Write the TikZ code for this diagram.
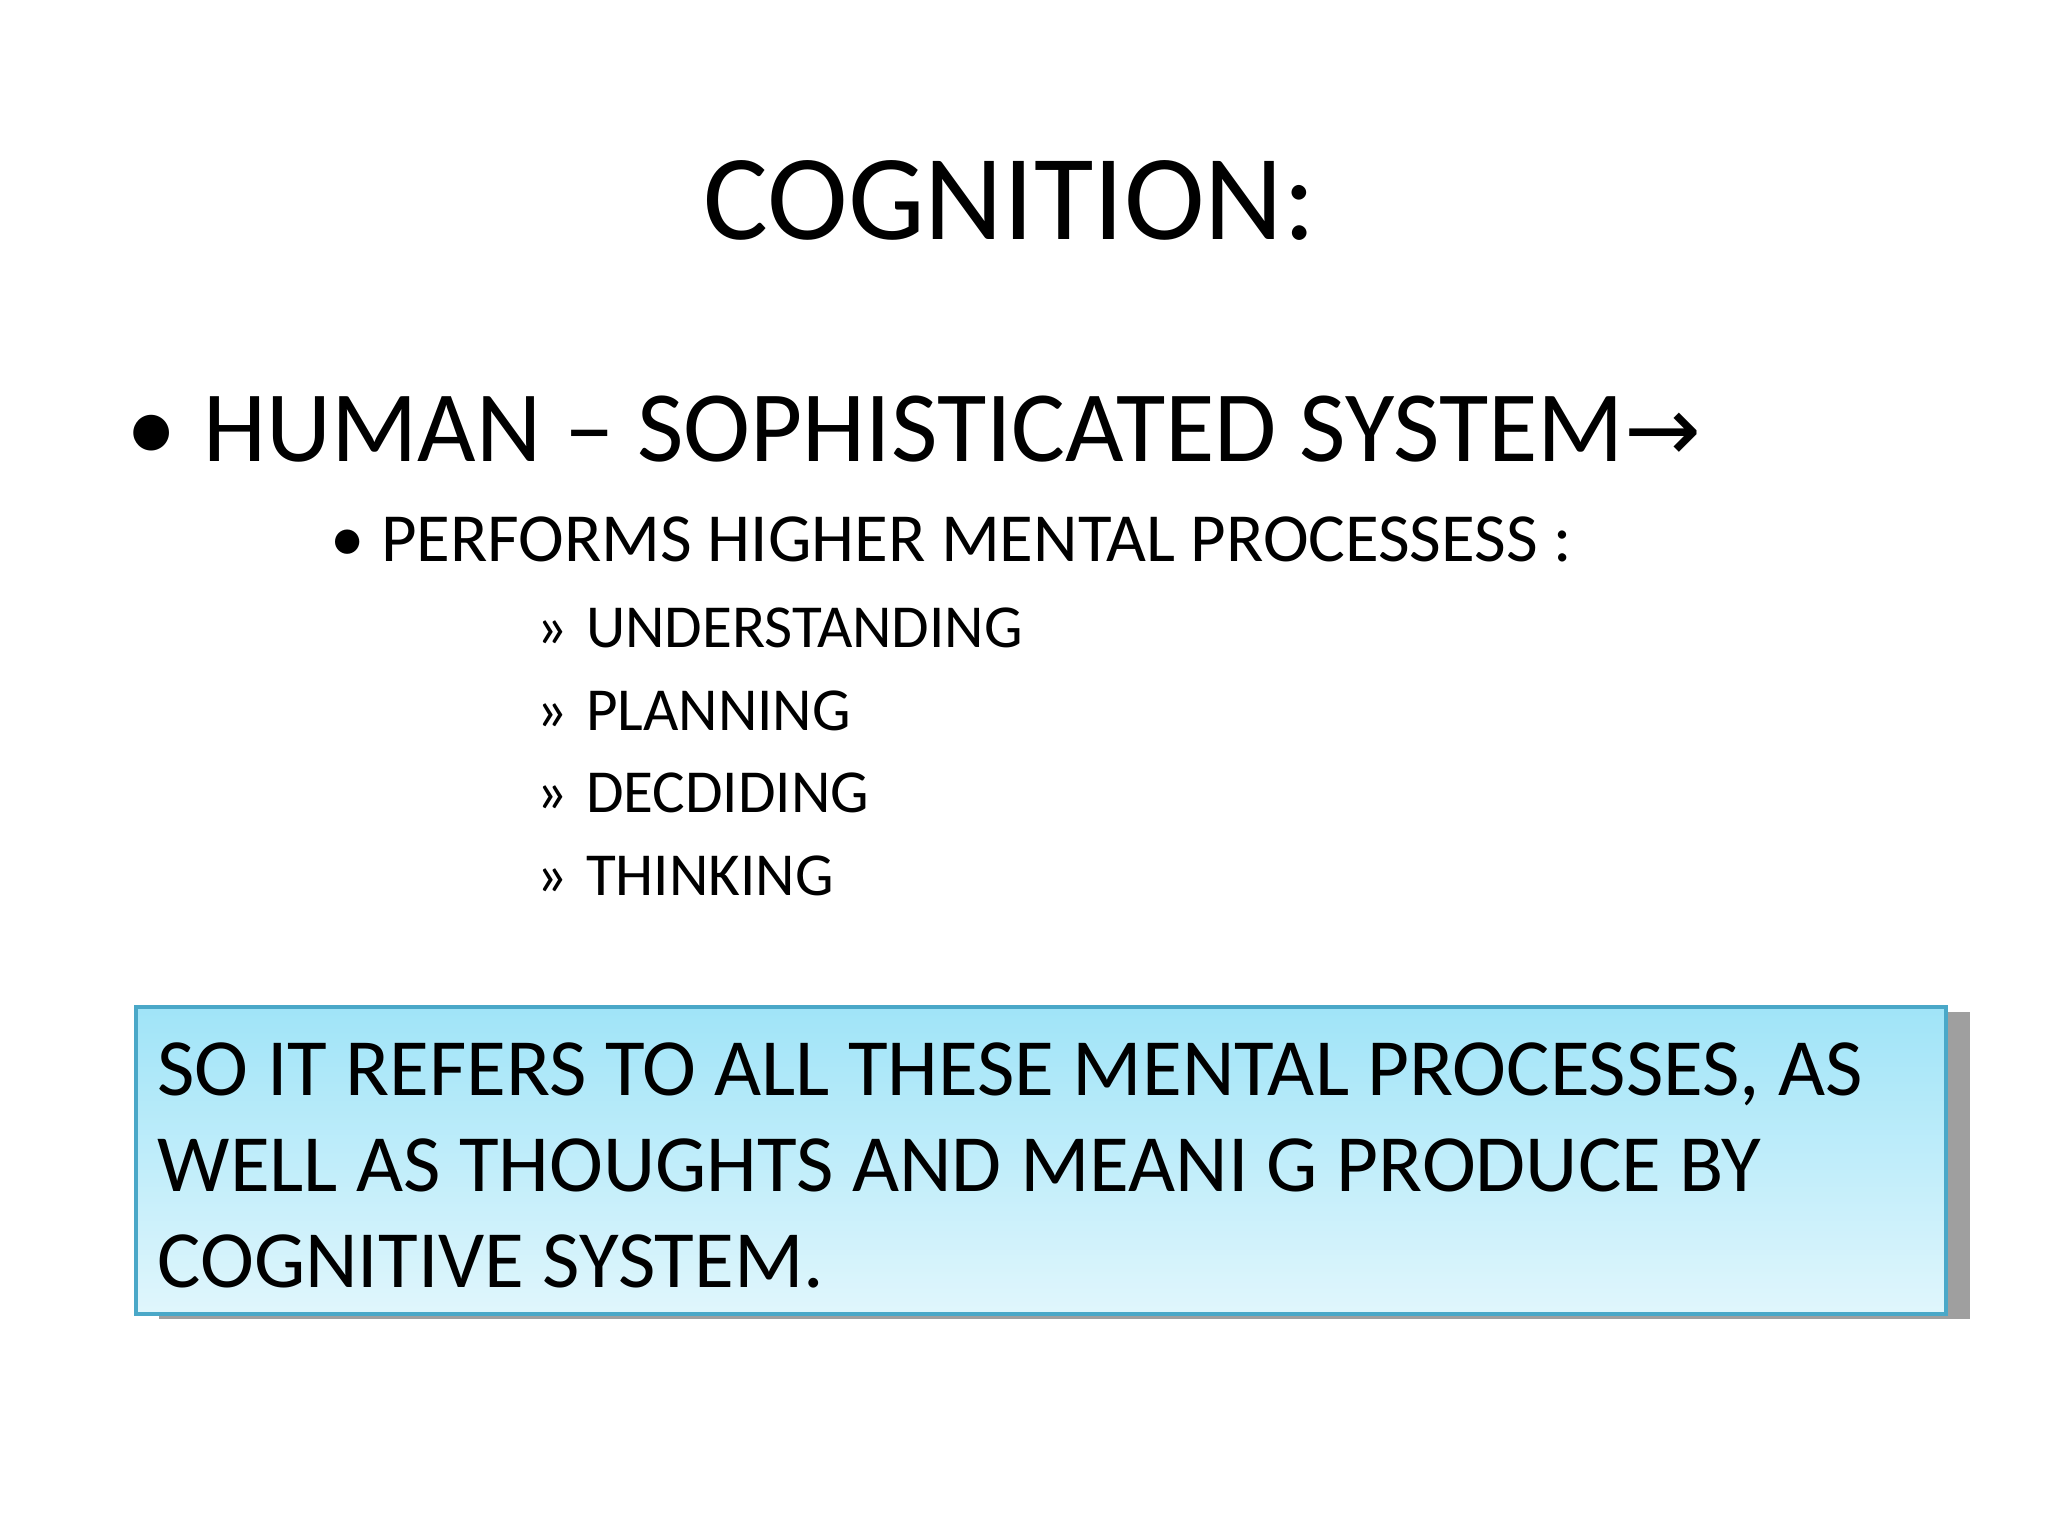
\documentclass[tikz,border=0pt]{standalone}
\usepackage{fontspec}
\setmainfont{Carlito}
\newfontfamily\djv{DejaVu Sans}
\begin{document}
\begin{tikzpicture}[x=0.01cm,y=-0.01cm,
  txt/.style={anchor=base west,inner sep=0pt}]
\useasboundingbox (0,0) rectangle (1568,1176);
\node[anchor=base,inner sep=0pt,font=\fontsize{26.5}{30}\selectfont] (title) at (773,183) {COGNITION:};
\node[txt,font=\fontsize{22}{26}\selectfont] (b1) at (96,353) {•};
\node[txt,font=\fontsize{22}{26}\selectfont] (t1) at (155,353) {HUMAN – SOPHISTICATED SYSTEM{\djv\fontsize{20}{24}\selectfont →}};
\node[txt,font=\fontsize{15}{18}\selectfont] (b2) at (252,430) {•};
\node[txt,font=\fontsize{15}{18}\selectfont] (t2) at (291,430) {PERFORMS HIGHER MENTAL PROCESSESS :};
\foreach \y/\s [count=\i] in {496/UNDERSTANDING,559/PLANNING,622/DECDIDING,686/THINKING}{
  \node[txt,font=\fontsize{13.3}{16}\selectfont] (r\i) at (410,\y) {»};
  \node[txt,font=\fontsize{13.3}{16}\selectfont] (i\i) at (448,\y) {\s};
}
\fill[gray!75] (122,775) rectangle (1508,1010);
\shade[top color={rgb,255:red,160;green,228;blue,248},bottom color={rgb,255:red,224;green,246;blue,252}]
  (104,771) rectangle (1490,1006);
\draw[draw={rgb,255:red,74;green,168;blue,200},line width=0.8pt] (104,771) rectangle (1490,1006);
\foreach \y/\s [count=\i] in {839/{SO IT REFERS TO ALL THESE MENTAL PROCESSES, AS},912/{WELL AS THOUGHTS AND MEANI G PRODUCE BY},986/{COGNITIVE SYSTEM.}}{
  \node[txt,font=\fontsize{17.7}{21}\selectfont] (l\i) at (120,\y) {\s};
}
\end{tikzpicture}
\end{document}
